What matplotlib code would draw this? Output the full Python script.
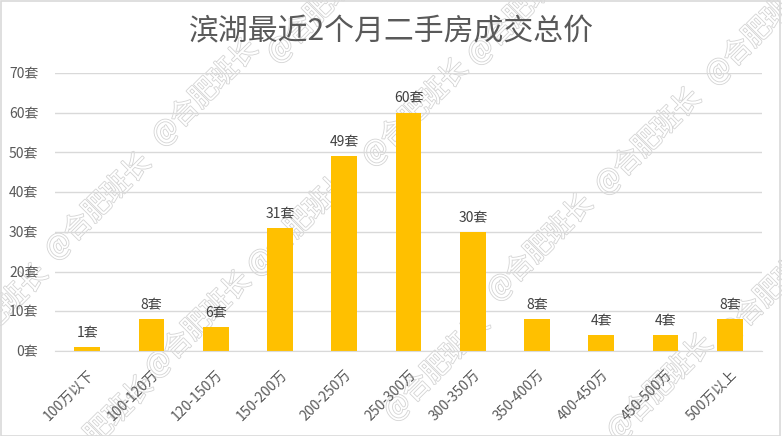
import matplotlib
matplotlib.use("Agg")
import matplotlib.pyplot as plt
from matplotlib.patches import Rectangle
import matplotlib.patheffects as pe

plt.rcParams['font.family'] = ['Noto Sans CJK SC', 'DejaVu Sans']

categories = ["100万以下", "100-120万", "120-150万", "150-200万", "200-250万",
              "250-300万", "300-350万", "350-400万", "400-450万", "450-500万", "500万以上"]
counts = [1, 8, 6, 31, 49, 60, 30, 8, 4, 4, 8]
yticks = [0, 10, 20, 30, 40, 50, 60, 70]
title = "滨湖最近2个月二手房成交总价"
watermark = "@合肥班长"

fig = plt.figure(figsize=(7.82, 4.36), dpi=100)
ax = fig.add_axes([55/782, 1-351/436, (762-55)/782, (351-73)/436])
ax.patch.set_alpha(0)

x = list(range(len(categories)))
bars = ax.bar(x, counts, width=0.4, color="#FFC000", zorder=2)
for xi, v in zip(x, counts):
    ax.annotate(f"{v}套", (xi, v), xytext=(0, 5), textcoords="offset points",
                ha="center", va="bottom", fontsize=10, color="#404040")

ax.set_xlim(-0.5, len(categories)-0.5)
ax.set_ylim(0, 70)
ax.set_yticks(yticks)
ax.set_yticklabels([f"{t}套" for t in yticks])
ax.set_xticks(x)
ax.set_xticklabels(categories, rotation=45, ha="right", rotation_mode="anchor")
ax.tick_params(axis="both", length=0, labelsize=10, labelcolor="#595959")
ax.tick_params(axis="y", pad=12)
ax.tick_params(axis="x", pad=12)
ax.yaxis.grid(True, color="#D9D9D9", linewidth=1, zorder=0)
ax.set_axisbelow(True)
for s in ["top", "right", "left"]:
    ax.spines[s].set_visible(False)
ax.spines["bottom"].set_color("#D9D9D9")

fig.text(0.5, 1-32/436, title, ha="center", va="center", fontsize=21.5,
         color="#595959", fontweight="light")

# figure border
fig.patches.append(Rectangle((0.001, 0.001), 0.997, 0.997, transform=fig.transFigure,
                             fill=False, edgecolor="#D9D9D9", linewidth=1.2, zorder=20))

# watermark positions (pixels), drawn behind the chart as hollow text
wm_pos = [(98, 207), (205, 93), (300, 223), (415, 113), (198, 325), (540, 248),
          (648, 142), (758, 32), (770, 292), (520, 12), (437, 368), (660, 388),
          (-5, 318), (100, 430), (320, 10)]
for (px, py) in wm_pos:
    fig.text(px/782, 1-py/436, watermark, ha="center", va="center", rotation=45,
             fontsize=20, color="white", zorder=-5,
             path_effects=[pe.Stroke(linewidth=1.2, foreground="#D4D4D4"), pe.Normal()])

fig.savefig("out.png", dpi=100)
